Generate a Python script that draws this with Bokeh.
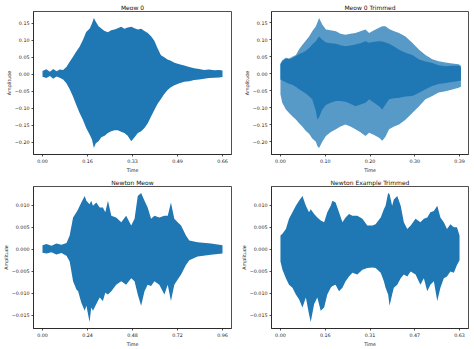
import numpy as np
from bokeh.plotting import figure
from bokeh.layouts import gridplot
from bokeh.models import Range1d, FixedTicker
from bokeh.embed import file_html
from bokeh.resources import INLINE

# ---------------- data (envelopes) ----------------
meow_t = [0.000, 0.014, 0.027, 0.039, 0.051, 0.063, 0.075, 0.087, 0.099, 0.111, 0.123, 0.135,
          0.147, 0.159, 0.172, 0.180, 0.187, 0.194, 0.204, 0.214, 0.226, 0.238, 0.250, 0.262,
          0.274, 0.286, 0.298, 0.310, 0.323, 0.335, 0.347, 0.359, 0.371, 0.383, 0.395, 0.407,
          0.419, 0.431, 0.443, 0.455, 0.467, 0.480, 0.498, 0.516, 0.534, 0.552, 0.570, 0.588,
          0.606, 0.625, 0.643, 0.655]
meow_up = [0.010, 0.015, 0.008, 0.016, 0.009, 0.014, 0.013, 0.022, 0.037, 0.052, 0.067, 0.081,
           0.101, 0.125, 0.135, 0.150, 0.166, 0.155, 0.142, 0.135, 0.128, 0.124, 0.130, 0.132,
           0.136, 0.140, 0.134, 0.138, 0.140, 0.136, 0.132, 0.134, 0.128, 0.122, 0.112, 0.099,
           0.076, 0.056, 0.050, 0.044, 0.040, 0.034, 0.030, 0.026, 0.022, 0.018, 0.016, 0.013,
           0.014, 0.012, 0.013, 0.011]
meow_lo = [-0.007, -0.011, -0.005, -0.013, -0.006, -0.010, -0.015, -0.026, -0.044, -0.065, -0.090, -0.114,
           -0.134, -0.158, -0.178, -0.192, -0.217, -0.203, -0.197, -0.185, -0.181, -0.173, -0.168, -0.165,
           -0.165, -0.169, -0.173, -0.181, -0.197, -0.185, -0.173, -0.168, -0.158, -0.144, -0.124, -0.105,
           -0.087, -0.073, -0.058, -0.046, -0.038, -0.032, -0.026, -0.022, -0.020, -0.017, -0.015, -0.013,
           -0.011, -0.010, -0.009, -0.008]

trim_t = [0.000, 0.004, 0.012, 0.019, 0.026, 0.034, 0.041, 0.048, 0.056, 0.063, 0.070, 0.078,
          0.081, 0.085, 0.092, 0.100, 0.110, 0.122, 0.132, 0.143, 0.154, 0.165, 0.176, 0.187,
          0.195, 0.206, 0.217, 0.224, 0.231, 0.239, 0.250, 0.261, 0.275, 0.290, 0.305, 0.319,
          0.334, 0.348, 0.363, 0.378, 0.392, 0.397]
trim_env_up = [0.030, 0.040, 0.047, 0.045, 0.050, 0.055, 0.072, 0.085, 0.098, 0.110, 0.125, 0.140,
               0.150, 0.164, 0.145, 0.130, 0.128, 0.125, 0.118, 0.115, 0.118, 0.120, 0.125, 0.130,
               0.120, 0.128, 0.135, 0.140, 0.140, 0.132, 0.125, 0.120, 0.110, 0.091, 0.071, 0.055,
               0.043, 0.037, 0.033, 0.030, 0.028, 0.024]
trim_env_lo = [-0.060, -0.085, -0.105, -0.115, -0.125, -0.134, -0.145, -0.155, -0.168, -0.176, -0.190, -0.200,
               -0.212, -0.218, -0.200, -0.183, -0.172, -0.163, -0.155, -0.149, -0.155, -0.163, -0.172, -0.183,
               -0.173, -0.180, -0.188, -0.197, -0.185, -0.163, -0.155, -0.149, -0.135, -0.115, -0.095, -0.075,
               -0.065, -0.055, -0.051, -0.046, -0.041, -0.038]
trim_up = [0.028, 0.036, 0.045, 0.043, 0.046, 0.052, 0.058, 0.062, 0.068, 0.076, 0.086, 0.096,
           0.102, 0.110, 0.100, 0.092, 0.090, 0.088, 0.084, 0.081, 0.083, 0.086, 0.090, 0.096,
           0.091, 0.094, 0.096, 0.095, 0.092, 0.088, 0.080, 0.071, 0.062, 0.055, 0.042, 0.036,
           0.032, 0.025, 0.022, 0.024, 0.024, 0.020]
trim_lo = [-0.017, -0.020, -0.025, -0.029, -0.032, -0.038, -0.045, -0.051, -0.058, -0.066, -0.075, -0.110,
           -0.134, -0.128, -0.105, -0.092, -0.085, -0.080, -0.080, -0.082, -0.088, -0.095, -0.090, -0.085,
           -0.075, -0.085, -0.095, -0.105, -0.090, -0.075, -0.072, -0.070, -0.067, -0.065, -0.056, -0.045,
           -0.036, -0.030, -0.027, -0.024, -0.021, -0.020]

newton_t = [0.000, 0.021, 0.048, 0.074, 0.101, 0.128, 0.145, 0.163, 0.181, 0.190, 0.207, 0.225,
            0.234, 0.251, 0.260, 0.269, 0.287, 0.305, 0.322, 0.335, 0.349, 0.367, 0.393, 0.420,
            0.446, 0.473, 0.491, 0.508, 0.526, 0.544, 0.561, 0.579, 0.597, 0.623, 0.650, 0.668,
            0.685, 0.703, 0.721, 0.739, 0.765, 0.783, 0.827, 0.898, 0.960]
newton_up = [0.0009, 0.0012, 0.0008, 0.0013, 0.0010, 0.0014, 0.0031, 0.0072, 0.0084, 0.0091, 0.0106, 0.0121,
             0.0110, 0.0102, 0.0110, 0.0099, 0.0106, 0.0095, 0.0095, 0.0084, 0.0110, 0.0076, 0.0072, 0.0061,
             0.0076, 0.0054, 0.0069, 0.0121, 0.0128, 0.0110, 0.0095, 0.0069, 0.0076, 0.0072, 0.0076, 0.0076,
             0.0106, 0.0069, 0.0061, 0.0054, 0.0031, 0.0020, 0.0016, 0.0013, 0.0009]
newton_lo = [-0.0008, -0.0010, -0.0007, -0.0012, -0.0009, -0.0015, -0.0028, -0.0073, -0.0092, -0.0096, -0.0122, -0.0140,
             -0.0129, -0.0166, -0.0133, -0.0140, -0.0125, -0.0110, -0.0118, -0.0099, -0.0103, -0.0096, -0.0081, -0.0073,
             -0.0081, -0.0066, -0.0073, -0.0103, -0.0129, -0.0096, -0.0081, -0.0084, -0.0073, -0.0081, -0.0103, -0.0081,
             -0.0118, -0.0081, -0.0069, -0.0058, -0.0036, -0.0025, -0.0017, -0.0013, -0.0010]

ntrim_t = [0.000, 0.007, 0.019, 0.030, 0.042, 0.054, 0.065, 0.077, 0.089, 0.100, 0.106, 0.118,
           0.129, 0.141, 0.153, 0.164, 0.176, 0.182, 0.193, 0.205, 0.217, 0.228, 0.240, 0.252,
           0.269, 0.287, 0.304, 0.322, 0.333, 0.351, 0.362, 0.368, 0.377, 0.382, 0.391, 0.397,
           0.409, 0.421, 0.432, 0.444, 0.456, 0.473, 0.490, 0.502, 0.514, 0.525, 0.537, 0.549,
           0.560, 0.572, 0.583, 0.595, 0.607, 0.618, 0.627]
ntrim_up = [0.0031, 0.0035, 0.0046, 0.0069, 0.0084, 0.0099, 0.0110, 0.0121, 0.0099, 0.0084, 0.0091, 0.0080,
            0.0072, 0.0065, 0.0061, 0.0084, 0.0099, 0.0110, 0.0106, 0.0084, 0.0061, 0.0072, 0.0080, 0.0076,
            0.0076, 0.0069, 0.0054, 0.0054, 0.0057, 0.0072, 0.0091, 0.0099, 0.0128, 0.0125, 0.0099, 0.0113,
            0.0121, 0.0099, 0.0061, 0.0046, 0.0054, 0.0069, 0.0061, 0.0069, 0.0072, 0.0084, 0.0087, 0.0099,
            0.0072, 0.0061, 0.0046, 0.0057, 0.0050, 0.0050, 0.0031]
ntrim_lo = [-0.0028, -0.0047, -0.0066, -0.0081, -0.0088, -0.0103, -0.0114, -0.0133, -0.0110, -0.0148, -0.0166, -0.0125,
            -0.0110, -0.0140, -0.0133, -0.0103, -0.0088, -0.0084, -0.0081, -0.0096, -0.0088, -0.0073, -0.0062, -0.0054,
            -0.0058, -0.0047, -0.0043, -0.0042, -0.0043, -0.0054, -0.0073, -0.0088, -0.0103, -0.0129, -0.0103, -0.0088,
            -0.0081, -0.0066, -0.0058, -0.0062, -0.0051, -0.0058, -0.0081, -0.0066, -0.0096, -0.0081, -0.0073, -0.0118,
            -0.0088, -0.0066, -0.0062, -0.0051, -0.0054, -0.0036, -0.0025]

titles = ["Meow 0", "Meow 0 Trimmed", "Newton Meow", "Newton Example Trimmed"]
durations = [0.655, 0.394, 0.96, 0.627]
x_tick_labels = [["0.00", "0.16", "0.33", "0.49", "0.66"],
                 ["0.00", "0.10", "0.20", "0.30", "0.39"],
                 ["0.00", "0.24", "0.48", "0.72", "0.96"],
                 ["0.00", "0.16", "0.31", "0.47", "0.63"]]
y_ticks_top = [0.15, 0.10, 0.05, 0.00, -0.05, -0.10, -0.15, -0.20]
y_labels_top = ["0.15", "0.10", "0.05", "0.00", "\u22120.05", "\u22120.10", "\u22120.15", "\u22120.20"]
y_ticks_bot = [0.010, 0.005, 0.000, -0.005, -0.010, -0.015]
y_labels_bot = ["0.010", "0.005", "0.000", "\u22120.005", "\u22120.010", "\u22120.015"]
x_axis_label = "Time"
y_axis_label = "Amplitude"

BLUE = "#1f77b4"
FONT = "DejaVu Sans"
TXT = "#222"


def make(idx, w, h, left, right, top, bottom, yt, yl, ymin, ymax):
    dur = durations[idx]
    span = ymax - ymin
    p = figure(width=w, height=h, output_backend="svg", toolbar_location=None,
               title=titles[idx],
               x_range=Range1d(-0.05 * dur, 1.05 * dur),
               y_range=Range1d(ymin - 0.05 * span, ymax + 0.05 * span),
               min_border_left=left, min_border_right=right,
               min_border_top=top, min_border_bottom=bottom)
    p.title.align = "center"
    p.title.text_font = FONT
    p.title.text_font_size = "6px"
    p.title.text_font_style = "normal"
    p.title.text_color = "#111"
    p.title.standoff = 2
    p.title.offset = 0
    p.xgrid.visible = False
    p.ygrid.visible = False
    p.outline_line_color = TXT
    p.outline_line_width = 0.8
    p.background_fill_color = "white"
    p.border_fill_color = "white"

    xt = list(np.linspace(0, dur, 5))
    p.xaxis.ticker = FixedTicker(ticks=xt)
    p.xaxis.major_label_overrides = {float(v): s for v, s in zip(xt, x_tick_labels[idx])}
    p.yaxis.ticker = FixedTicker(ticks=yt)
    p.yaxis.major_label_overrides = {float(v): s for v, s in zip(yt, yl)}
    p.xaxis.axis_label = x_axis_label
    p.yaxis.axis_label = y_axis_label
    for ax in (p.xaxis, p.yaxis):
        ax.major_label_text_font = FONT
        ax.major_label_text_font_size = "4.8px"
        ax.major_label_text_color = TXT
        ax.axis_label_text_font = FONT
        ax.axis_label_text_font_size = "4.8px"
        ax.axis_label_text_font_style = "normal"
        ax.axis_label_text_color = TXT
        ax.major_tick_out = 2
        ax.major_tick_in = 0
        ax.minor_tick_line_color = None
        ax.axis_line_color = TXT
        ax.axis_line_width = 0.8
        ax.major_tick_line_color = TXT
        ax.major_tick_line_width = 0.8
    p.yaxis.major_label_standoff = 2
    p.yaxis.axis_label_standoff = 0
    p.xaxis.major_label_standoff = 2
    p.xaxis.axis_label_standoff = 2
    return p


p1 = make(0, 237, 175, 32, 6, 11, 19, y_ticks_top, y_labels_top, min(meow_lo), max(meow_up))
p1.varea(x=meow_t, y1=meow_lo, y2=meow_up, fill_color=BLUE)

p2 = make(1, 237, 175, 34, 6, 11, 19, y_ticks_top, y_labels_top, min(trim_env_lo), max(trim_env_up))
p2.varea(x=trim_t, y1=trim_env_lo, y2=trim_env_up, fill_color=BLUE, fill_alpha=0.75)
p2.varea(x=trim_t, y1=trim_lo, y2=trim_up, fill_color=BLUE)

p3 = make(2, 237, 174, 32, 6, 11, 18, y_ticks_bot, y_labels_bot, min(newton_lo), max(newton_up))
p3.varea(x=newton_t, y1=newton_lo, y2=newton_up, fill_color=BLUE)

p4 = make(3, 237, 174, 34, 6, 11, 18, y_ticks_bot, y_labels_bot, min(ntrim_lo), max(ntrim_up))
p4.varea(x=ntrim_t, y1=ntrim_lo, y2=ntrim_up, fill_color=BLUE)

grid = gridplot([[p1, p2], [p3, p4]], toolbar_location=None)

open("out.html", "w").write(file_html(grid, INLINE))
